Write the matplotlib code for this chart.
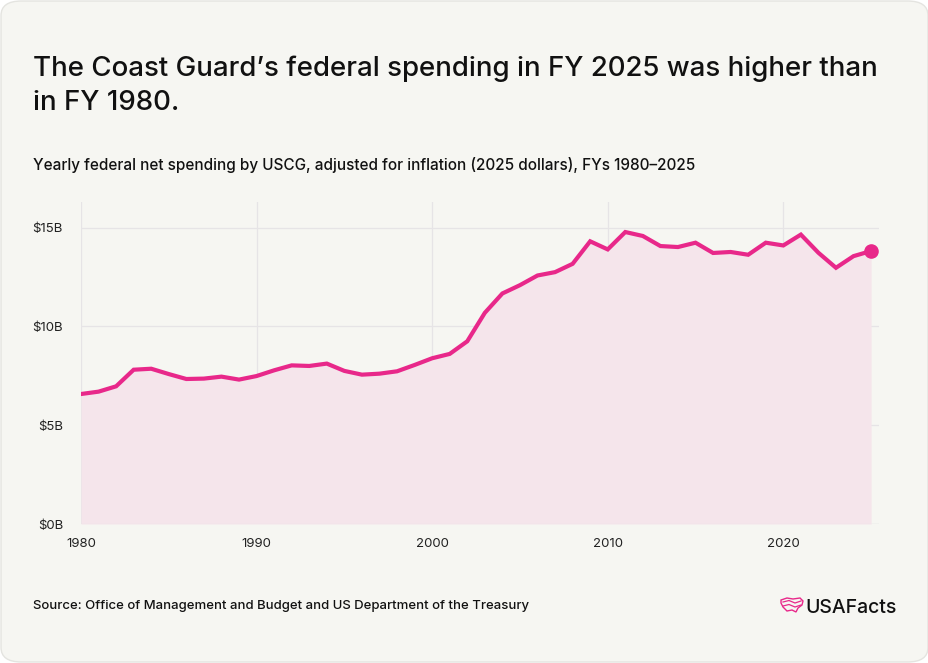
import numpy as np
import matplotlib.pyplot as plt
from matplotlib.patches import FancyBboxPatch, Polygon

years = list(range(1980, 2026))
spending = [6.58, 6.70, 6.97, 7.81, 7.86, 7.59, 7.34, 7.36, 7.46, 7.31,
            7.49, 7.78, 8.03, 8.00, 8.12, 7.75, 7.56, 7.61, 7.73, 8.05,
            8.39, 8.61, 9.25, 10.69, 11.67, 12.09, 12.58, 12.75, 13.17, 14.31,
            13.90, 14.78, 14.58, 14.07, 14.02, 14.24, 13.72, 13.77, 13.63, 14.24,
            14.10, 14.65, 13.73, 12.97, 13.56, 13.82]
y_ticks = [0, 5, 10, 15]
y_labels = ["$0B", "$5B", "$10B", "$15B"]
x_ticks = [1980, 1990, 2000, 2010, 2020]

title = "The Coast Guard\u2019s federal spending in FY 2025 was higher than\nin FY 1980."
subtitle = "Yearly federal net spending by USCG, adjusted for inflation (2025 dollars), FYs 1980\u20132025"
source = "Source: Office of Management and Budget and US Department of the Treasury"

plt.rcParams['font.family'] = ['Inter', 'DejaVu Sans']

pink = "#e8288a"
fill_c = "#f5e5eb"
grid_c = "#e6e4e6"
card_c = "#f6f6f2"

W, H = 929, 663
fig = plt.figure(figsize=(W / 100, H / 100), dpi=100)
fig.patch.set_facecolor("#ffffff")

card = FancyBboxPatch((1 / W, 1 / H), 1 - 2 / W, 1 - 2 / H,
                      boxstyle="round,pad=0,rounding_size=0.022",
                      transform=fig.transFigure, facecolor=card_c,
                      edgecolor="#e4e4e0", linewidth=1, zorder=-10)
fig.patches.append(card)

fig.text(33 / W, 1 - 110 / H, title, fontsize=19.9, fontweight="medium",
         color="#111111", va="baseline", ha="left", linespacing=1.38)
fig.text(33 / W, 1 - 170 / H, subtitle, fontsize=11.0, fontweight="medium",
         color="#111111", va="baseline", ha="left")
fig.text(33 / W, 1 - 609 / H, source, fontsize=9.45, fontweight="medium",
         color="#111111", va="baseline", ha="left")

ax = fig.add_axes([81 / W, 139 / H, (879 - 81) / W, (524 - 202) / H])
ax.set_facecolor("none")
ax.fill_between(years, spending, 0, color=fill_c, linewidth=0, zorder=1)
ax.plot(years, spending, color=pink, linewidth=3, solid_joinstyle="miter", zorder=3)
ax.scatter([years[-1]], [spending[-1]], s=90, color=pink, zorder=4, clip_on=False)

ax.set_xlim(1980, 2025.45)
ax.set_ylim(0, 16.3)
ax.set_yticks(y_ticks)
ax.set_yticklabels(y_labels)
ax.set_xticks(x_ticks)
ax.set_xticklabels([str(x) for x in x_ticks])
ax.grid(True, color=grid_c, linewidth=0.9, zorder=0)
ax.set_axisbelow(True)
for s in ax.spines.values():
    s.set_visible(False)
ax.tick_params(axis="both", length=0, labelsize=9.5, colors="#222222")
ax.tick_params(axis="y", pad=13)
ax.tick_params(axis="x", pad=10)
ax.axhline(0, color=grid_c, linewidth=0.9, zorder=2)

# USAFacts logo
fig.text(897 / W, 1 - 613 / H, "USAFacts", fontsize=14, fontweight="medium",
         color="#111111", ha="right", va="baseline")
lx, ly = 781, 598
outline = [(0, 2), (6, 0), (12, 1), (19, 0), (22, 3), (21, 7), (17, 10),
           (15, 14), (11, 12), (6, 13), (2, 9), (0, 5)]
pts = [((lx + px) / W, 1 - (ly + py) / H) for px, py in outline]
fig.patches.append(Polygon(pts, closed=True, fill=False, edgecolor=pink,
                           linewidth=1.0, transform=fig.transFigure))
for dy in (4, 8):
    xs = np.array([lx + 2, lx + 8, lx + 14, lx + 20])
    ys = np.array([ly + dy, ly + dy - 1.5, ly + dy + 1, ly + dy - 1])
    fig.add_artist(plt.Line2D(xs / W, 1 - ys / H, color=pink, linewidth=0.9,
                              transform=fig.transFigure))

fig.savefig("out.png", dpi=100, facecolor=fig.get_facecolor())
